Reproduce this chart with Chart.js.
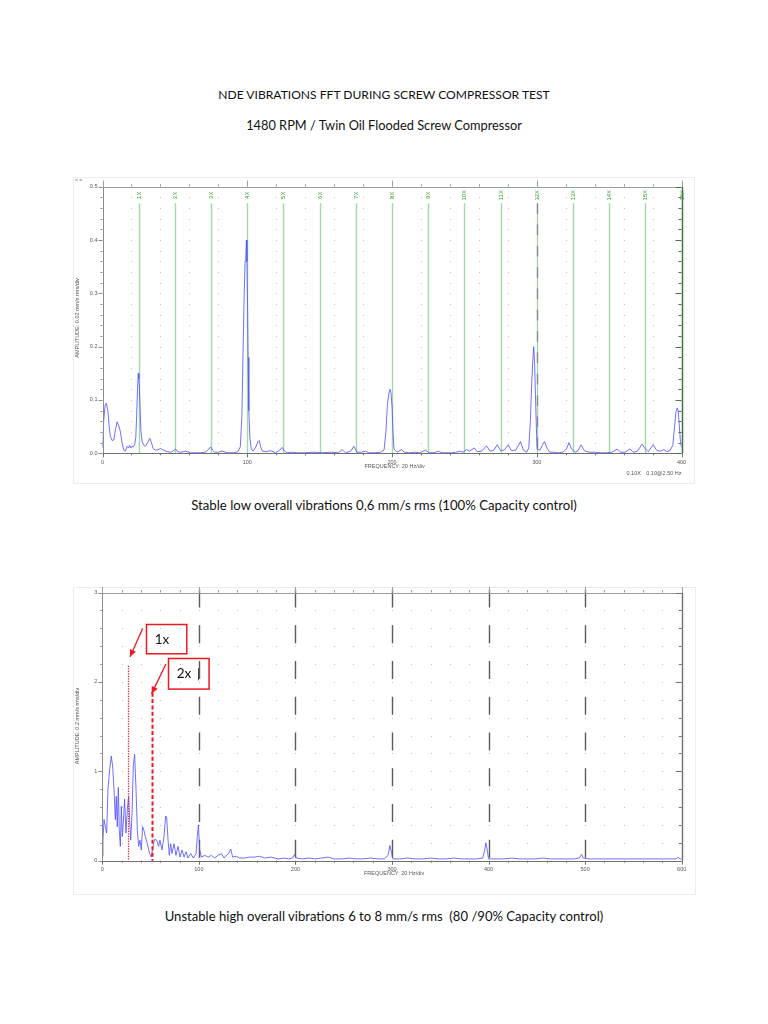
<!DOCTYPE html>
<html><head><meta charset="utf-8">
<script src="https://cdn.jsdelivr.net/npm/chart.js@4/dist/chart.umd.min.js"></script>
<style>
body{margin:0;background:#fff;width:768px;height:1024px;position:relative;overflow:hidden;font-family:Lato,"Open Sans",sans-serif}
.t{position:absolute;left:0;width:768px;text-align:center;font-size:13px;line-height:18px;color:#111;white-space:pre}
canvas{position:absolute}
</style></head><body>
<div class="t" style="top:86px;font-size:12.1px">NDE VIBRATIONS FFT DURING SCREW COMPRESSOR TEST</div>
<div class="t" style="top:116px;font-size:12.8px">1480 RPM / Twin Oil Flooded Screw Compressor</div>
<div class="t" style="top:496px;font-size:13.2px">Stable low overall vibrations 0,6 mm/s rms (100% Capacity control)</div>
<div class="t" style="top:907px;font-size:13.1px">Unstable high overall vibrations 6 to 8 mm/s rms  (80 /90% Capacity control)</div>
<canvas id="c1" width="622" height="307" style="left:73px;top:177px"></canvas>
<canvas id="c2" width="623" height="308" style="left:73px;top:587px"></canvas>
<script>
// ---------- Chart 1 data (100% capacity) ----------
const freq1 = [
 0,0.8,1.8,2.6,3.7,4.6,5.5,6.6,7.8,9,
 10.1,11.2,12.4,13.5,14.7,15.8,17,18,18.8,19.6,
 20.4,21.3,22.2,23,23.6,24.2,24.7,25.1,25.5,26,
 26.6,27.4,28.5,29.7,31.2,32.7,33.8,35,36.5,37.8,
 40.1,42,44.7,47.5,50.5,52,54,57.4,60.9,64,
 67.8,71,73.5,74.7,76,77.5,80,82.8,86.2,90.8,
 93.5,95.2,96.3,97.1,97.9,98.5,99,99.4,99.8,100.2,
 100.6,101.1,101.8,102.8,104,106,107.3,108.3,109.3,110.5,
 113,116,119.5,122.5,124.1,125.8,127.5,131,134.4,140,
 146,152,158,163,165.6,167.9,171.5,173.6,175.9,179,
 181.7,184,188,192,194.5,195.8,196.8,197.8,198.6,199.3,
 200.1,200.7,201.4,203.5,206.5,208.5,212,216,219,223.2,
 225.5,229,232,234.5,238,241.5,244,247.3,249,251.5,
 253.5,256.8,258.8,262,265.3,267.8,270.3,272.7,275,277.5,
 280.3,282.5,285.5,288.8,290.8,293,294.5,295.6,296.5,297.3,
 297.9,298.5,299.1,299.7,300.3,302.3,303.8,305.4,307,309,
 312,315,318,320.5,322.3,324,326.5,328.5,330.7,332.8,
 336,340,344,348,352,355.5,358,361,364.3,367,
 369.5,371.5,372.8,374.5,377,380.4,383,385.5,387.8,390,
 392,394,395.2,396.2,397,397.7,398.4,399.2,400];
const amp1 = [
 0.01,0.06,0.09,0.094,0.08,0.05,0.031,0.024,0.025,0.045,
 0.059,0.052,0.04,0.02,0.006,0.004,0.013,0.01,0.015,0.01,
 0.013,0.012,0.016,0.03,0.07,0.12,0.15,0.14,0.125,0.08,
 0.04,0.022,0.015,0.013,0.02,0.028,0.02,0.009,0.006,0.006,
 0.009,0.006,0.003,0.002,0.008,0.003,0.002,0.004,0.001,0.001,
 0.001,0.002,0.008,0.012,0.006,0.002,0.002,0.004,0.001,0.001,
 0.003,0.012,0.07,0.19,0.3,0.36,0.37,0.4,0.36,0.28,
 0.18,0.08,0.03,0.008,0.004,0.012,0.022,0.024,0.012,0.004,
 0.003,0.005,0.001,0.006,0.011,0.004,0.001,0.002,0.001,0.001,
 0.002,0.001,0.002,0.001,0.007,0.001,0.004,0.013,0.002,0.002,
 0.004,0.001,0.001,0.002,0.006,0.04,0.09,0.112,0.12,0.113,
 0.085,0.04,0.008,0.002,0.007,0.002,0.001,0.002,0.001,0.006,
 0.001,0.001,0.004,0.001,0.001,0.001,0.002,0.004,0.002,0.007,
 0.004,0.01,0.003,0.004,0.014,0.004,0.006,0.016,0.005,0.006,
 0.016,0.005,0.006,0.022,0.006,0.002,0.01,0.06,0.13,0.175,
 0.2,0.17,0.11,0.05,0.008,0.006,0.015,0.022,0.01,0.002,
 0.002,0.001,0.002,0.008,0.02,0.008,0.002,0.005,0.016,0.005,
 0.002,0.002,0.001,0.001,0.002,0.008,0.002,0.002,0.008,0.002,
 0.004,0.012,0.017,0.01,0.003,0.016,0.005,0.004,0.007,0.003,
 0.005,0.015,0.05,0.078,0.085,0.08,0.055,0.025,0.01];
const harmonicFreq = [25,50,75,100,125,150,175,200,225,250,275,300,325,350,375,400];
const harmonicLabels = ['1X','2X','3X','4X','5X','6X','7X','8X','9X','10X','11X','12X','13X','14X','15X','16X'];
const dashedHarmonic = '12X';
const xTicks1 = [0,100,200,300,400];
const yTicks1 = [0,0.1,0.2,0.3,0.4,0.5];
const yTickLabels1 = ['0.0','0.1','0.2','0.3','0.4','0.5'];

// ---------- Chart 2 data (80/90% capacity) ----------
const freq2 = [
 0,0.7,1.8,3.2,4.5,5.9,7.6,9.3,10.7,12.1,
 13.5,14.5,15.5,16.6,17.6,18.7,19.7,20.7,21.7,23.1,
 24.5,25.9,27.3,28.3,29.4,30.7,32.1,33.5,34.9,36.3,
 37.6,39,40.4,41.7,43.1,44.5,46.6,49,50.7,52.5,
 54.2,56.3,58.3,59.7,61.8,63.9,65.6,66.7,68.1,69.4,
 70.8,72.2,74.3,76.3,78.4,80.5,82.6,84.7,86.7,88.8,
 91.6,94.3,97.1,98.4,99.5,100.9,102.6,106,109.5,113,
 116.4,119.8,123.3,126,128.5,130.9,133,135,138.9,142.3,
 147.5,152.6,157.8,163,168,175,182,188,193,197,
 199,201,207,214,220,227,234,240,248,256,
 263,270,278,286,292,296,297.8,299.5,301,308,
 316,324,332,340,348,356,364,372,380,388,
 394,396,397.2,398.5,400,408,416,424,432,440,
 448,456,464,472,480,488,494,496.3,498,504,
 512,520,528,536,544,552,560,568,576,584,
 590,594.5,596.3,598,600];
const amp2 = [
 0.05,0.23,0.46,0.38,0.31,0.80,1.02,1.17,1.06,0.80,
 0.46,0.72,0.38,0.82,0.34,0.16,0.61,0.27,0.42,0.69,
 0.31,0.57,0.72,0.46,0.23,0.50,1.06,1.19,0.80,0.34,
 0.16,0.23,0.12,0.38,0.34,0.27,0.19,0.08,0.04,0.16,
 0.24,0.23,0.16,0.23,0.12,0.27,0.50,0.48,0.23,0.06,
 0.19,0.08,0.19,0.06,0.16,0.04,0.12,0.04,0.10,0.03,
 0.08,0.03,0.08,0.27,0.40,0.12,0.04,0.06,0.04,0.06,
 0.03,0.06,0.08,0.03,0.06,0.08,0.13,0.04,0.05,0.03,
 0.03,0.04,0.04,0.05,0.03,0.04,0.02,0.03,0.02,0.03,
 0.07,0.03,0.02,0.03,0.02,0.03,0.04,0.02,0.02,0.03,
 0.02,0.02,0.03,0.02,0.02,0.06,0.17,0.09,0.02,0.02,
 0.03,0.02,0.02,0.03,0.02,0.02,0.03,0.02,0.02,0.02,
 0.03,0.12,0.20,0.13,0.02,0.02,0.02,0.03,0.02,0.02,
 0.02,0.03,0.02,0.02,0.02,0.02,0.03,0.07,0.03,0.02,
 0.02,0.02,0.02,0.02,0.02,0.02,0.02,0.02,0.02,0.02,
 0.02,0.02,0.04,0.02,0.02];
const xTicks2 = [0,100,200,300,400,500,600];
const yTicks2 = [0,1,2,3];
const dashedFreq2 = [100,200,300,400,500];
const markerLabels = ['1x','2x'];
const markerFreq = [26.3,51.1];
const markerTop = [2.18,1.88];

// ---------- drawing helpers (styles/positions) ----------
const TICKFONT = '5.5px "Liberation Sans", Arial, sans-serif';
const cr = v => Math.round(v) + 0.5;
function hl(ctx,x1,x2,y){ctx.beginPath();ctx.moveTo(x1,y);ctx.lineTo(x2,y);ctx.stroke();}
function vl(ctx,x,y1,y2){ctx.beginPath();ctx.moveTo(x,y1);ctx.lineTo(x,y2);ctx.stroke();}
function dots(ctx,x,y,xmax,ymax,sx,sy,color){
  ctx.fillStyle=color;
  for(let i=1;i*sx<xmax-1e-6;i++){for(let j=1;j*sy<ymax-1e-6;j++){
    ctx.fillRect(Math.round(x.getPixelForValue(i*sx)),Math.round(y.getPixelForValue(j*sy)),1,1);}}
}
function frameAxes(ctx,a,x,y,xmax,ymax,sx,sy,majX,majY,rightColor){
  const L=a.left,R=a.right,T=a.top,B=a.bottom;
  ctx.setLineDash([]);ctx.lineWidth=1;
  ctx.strokeStyle='#9c9c9c'; hl(ctx,L,R,cr(T));
  for(let i=0;i*sx<=xmax+1e-6;i++){const v=i*sx,p=cr(x.getPixelForValue(v));const m=Math.abs(v/majX-Math.round(v/majX))<1e-6;vl(ctx,p,T-(m?6:2.5),T);}
  ctx.strokeStyle='#707070'; hl(ctx,L,R,cr(B));
  for(let i=0;i*sx<=xmax+1e-6;i++){const v=i*sx,p=cr(x.getPixelForValue(v));const m=Math.abs(v/majX-Math.round(v/majX))<1e-6;vl(ctx,p,B,B+(m?4:2));}
  ctx.strokeStyle='#8c8c8c'; vl(ctx,cr(L),T,B);
  for(let j=0;j*sy<=ymax+1e-6;j++){const v=j*sy,p=cr(y.getPixelForValue(v));const m=Math.abs(v/majY-Math.round(v/majY))<1e-6;hl(ctx,L-(m?4:2),L,p);}
  ctx.strokeStyle=rightColor; ctx.lineWidth=1.4; vl(ctx,Math.round(R)+0.5,T,B); ctx.lineWidth=1;
  for(let j=0;j*sy<=ymax+1e-6;j++){const v=j*sy,p=cr(y.getPixelForValue(v));const m=Math.abs(v/majY-Math.round(v/majY))<1e-6;hl(ctx,R-(m?6:3),R,p);}
}
function tickLabels(ctx,a,x,y,xt,yt,ylab){
  ctx.font=TICKFONT;ctx.fillStyle='#555';
  ctx.textAlign='center';ctx.textBaseline='top';
  xt.forEach(v=>ctx.fillText(String(v),x.getPixelForValue(v),a.bottom+6));
  ctx.textAlign='right';ctx.textBaseline='middle';
  yt.forEach((v,i)=>ctx.fillText(ylab[i],a.left-5,y.getPixelForValue(v)));
}
function vtext(ctx,txt,px,py){ctx.save();ctx.translate(px,py);ctx.rotate(-Math.PI/2);ctx.textAlign='center';ctx.textBaseline='middle';ctx.fillText(txt,0,0);ctx.restore();}
function arrow(ctx,x1,y1,x2,y2){
  ctx.beginPath();ctx.moveTo(x1,y1);ctx.lineTo(x2,y2);ctx.stroke();
  const ang=Math.atan2(y2-y1,x2-x1),l=7,w=3.3;
  ctx.beginPath();ctx.moveTo(x2,y2);
  ctx.lineTo(x2-l*Math.cos(ang)+w*Math.sin(ang),y2-l*Math.sin(ang)-w*Math.cos(ang));
  ctx.lineTo(x2-l*Math.cos(ang)-w*Math.sin(ang),y2-l*Math.sin(ang)+w*Math.cos(ang));
  ctx.closePath();ctx.fill();
}

const deco1 = {id:'deco1',
  beforeDatasetsDraw(chart){
    const {ctx,chartArea:a,scales:{x,y}}=chart; ctx.save();
    ctx.strokeStyle='rgba(0,0,0,0.07)';ctx.lineWidth=1;ctx.strokeRect(0.5,0.5,chart.width-1,chart.height-1);
    dots(ctx,x,y,400,0.5,20,0.02,'#c2c2c2');
    harmonicFreq.forEach((f,i)=>{
      const p=cr(x.getPixelForValue(f));
      ctx.setLineDash([]);ctx.strokeStyle='#a4d8a4';ctx.lineWidth=1.4;
      vl(ctx,p,y.getPixelForValue(0.469),a.bottom);
      if(harmonicLabels[i]===dashedHarmonic){
        const d=y.getPixelForValue(0)-y.getPixelForValue(0.02);
        ctx.setLineDash([d,d]);ctx.strokeStyle='#8a8a8a';ctx.lineWidth=1.3;
        vl(ctx,p,y.getPixelForValue(0.469),a.bottom);ctx.setLineDash([]);
      }
      ctx.font='6px "Liberation Sans", Arial, sans-serif';ctx.fillStyle='#2f9a2f';
      vtext(ctx,harmonicLabels[i],p,y.getPixelForValue(0.484));
    });
    ctx.restore();
  },
  afterDatasetsDraw(chart){
    const {ctx,chartArea:a,scales:{x,y}}=chart; ctx.save();
    frameAxes(ctx,a,x,y,400,0.5,20,0.02,100,0.1,'#4a724a');
    tickLabels(ctx,a,x,y,xTicks1,yTicks1,yTickLabels1);
    ctx.font=TICKFONT;ctx.fillStyle='#555';ctx.textAlign='left';ctx.textBaseline='middle';
    ctx.fillText('FREQUENCY: 20 Hz/div',x.getPixelForValue(181),a.bottom+13);
    ctx.fillText('0.10X',x.getPixelForValue(362),a.bottom+20);
    ctx.textAlign='right';ctx.fillText('0.10@2.50 Hz',a.right,a.bottom+20);
    vtext(ctx,'AMPLITUDE: 0.02 mm/s rms/div',4,141);
    ctx.fillStyle='#777';ctx.font='5px "Liberation Sans"';ctx.textAlign='left';ctx.fillText('= =',2,4);
    ctx.restore();
  }
};

const deco2 = {id:'deco2',
  beforeDatasetsDraw(chart){
    const {ctx,chartArea:a,scales:{x,y}}=chart; ctx.save();
    ctx.strokeStyle='rgba(0,0,0,0.07)';ctx.lineWidth=1;ctx.strokeRect(0.5,0.5,chart.width-1,chart.height-1);
    dots(ctx,x,y,600,3,20,0.2,'#bdbdbd');
    const d=y.getPixelForValue(0)-y.getPixelForValue(0.2);
    ctx.strokeStyle='#5a5a5a';ctx.lineWidth=1.4;ctx.setLineDash([d,d]);
    dashedFreq2.forEach(f=>{const p=cr(x.getPixelForValue(f));vl(ctx,p,a.top-3,a.bottom);});
    ctx.setLineDash([]);
    ctx.restore();
  },
  afterDatasetsDraw(chart){
    const {ctx,chartArea:a,scales:{x,y}}=chart; ctx.save();
    frameAxes(ctx,a,x,y,600,3,20,0.2,100,1,'#707070');
    tickLabels(ctx,a,x,y,xTicks2,yTicks2,yTicks2.map(String));
    ctx.font=TICKFONT;ctx.fillStyle='#555';ctx.textAlign='left';ctx.textBaseline='middle';
    ctx.fillText('FREQUENCY: 20 Hz/div',x.getPixelForValue(271),a.bottom+13);
    vtext(ctx,'AMPLITUDE: 0.2 mm/s rms/div',4,139);
    // red markers
    const boxes=[{ax:[15,-37.4,2.3,-9],bx:[18,-41.7,40.3,29.3],tx:[34.3,-26.5]},
                 {ax:[14.3,-28.6,0,1],bx:[16,-34.6,40.6,30.6],tx:[32.3,-19.3]}];
    markerFreq.forEach((f,i)=>{
      const p=x.getPixelForValue(f),t=y.getPixelForValue(markerTop[i]);
      ctx.strokeStyle='#e81a22';ctx.fillStyle='#e81a22';
      if(i===0){ctx.setLineDash([1.2,1.3]);ctx.lineWidth=1.3;}else{ctx.setLineDash([4,2.4]);ctx.lineWidth=2;}
      vl(ctx,Math.round(p)+0.5,t,a.bottom);
      ctx.setLineDash([]);ctx.lineWidth=1.3;
      const b=boxes[i];
      arrow(ctx,p+b.ax[0],t+b.ax[1],p+b.ax[2],t+b.ax[3]);
      ctx.lineWidth=1.5;ctx.strokeRect(Math.round(p+b.bx[0])+0.5,Math.round(t+b.bx[1])+0.5,b.bx[2],b.bx[3]);
      ctx.fillStyle='#111';ctx.font='13.5px Lato, "Open Sans", sans-serif';ctx.textAlign='center';ctx.textBaseline='middle';
      ctx.fillText(markerLabels[i],p+b.tx[0],t+b.tx[1]);
      if(i===1){ctx.strokeStyle='#444';ctx.lineWidth=1;vl(ctx,Math.round(p+46.6)+0.5,t-24.3,t-12.3);}
    });
    ctx.restore();
  }
};

function makeChart(id,xs,ys,xmax,ymax,pad,plugin){
  return new Chart(document.getElementById(id),{
    type:'line',
    data:{datasets:[{data:xs.map((v,i)=>({x:v,y:ys[i]})),borderColor:'rgba(80,80,255,0.82)',borderWidth:1,pointRadius:0,tension:0,fill:false}]},
    options:{responsive:false,animation:false,events:[],layout:{padding:pad},
      plugins:{legend:{display:false},tooltip:{enabled:false}},
      scales:{x:{type:'linear',min:0,max:xmax,display:false},y:{min:0,max:ymax,display:false}}},
    plugins:[plugin]
  });
}
makeChart('c1',freq1,amp1,400,0.5,{left:29.5,right:13.5,top:9.7,bottom:30.7},deco1);
makeChart('c2',freq2,amp2,600,3,{left:29.3,right:14.3,top:5.5,bottom:34.3},deco2);
</script>
</body></html>
